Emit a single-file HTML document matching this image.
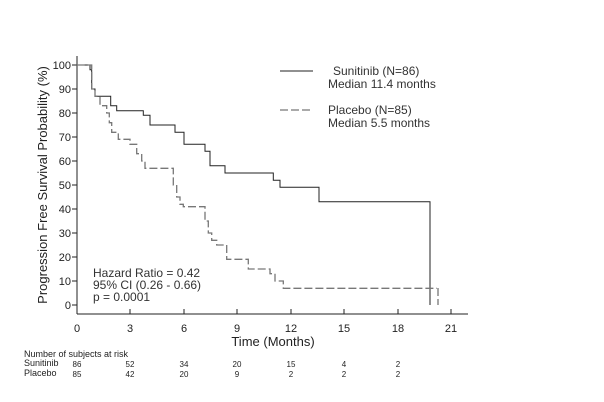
<!DOCTYPE html><html><head><style>body{margin:0;background:#fff}svg{display:block;font-family:"Liberation Sans",sans-serif}</style></head><body>
<svg width="604" height="402" viewBox="0 0 604 402">
<g stroke="#222" stroke-width="1" fill="none">
<line x1="77" y1="56" x2="77" y2="314"/>
<line x1="77" y1="314" x2="468" y2="314"/>
<g>
<line x1="72" y1="65" x2="77" y2="65"/><line x1="72" y1="89" x2="77" y2="89"/><line x1="72" y1="113" x2="77" y2="113"/><line x1="72" y1="137" x2="77" y2="137"/><line x1="72" y1="161" x2="77" y2="161"/><line x1="72" y1="185" x2="77" y2="185"/><line x1="72" y1="209" x2="77" y2="209"/><line x1="72" y1="233" x2="77" y2="233"/><line x1="72" y1="257" x2="77" y2="257"/><line x1="72" y1="281" x2="77" y2="281"/><line x1="72" y1="305" x2="77" y2="305"/>
</g>
<g>
<line x1="130" y1="309" x2="130" y2="314"/><line x1="184" y1="309" x2="184" y2="314"/><line x1="237" y1="309" x2="237" y2="314"/><line x1="291" y1="309" x2="291" y2="314"/><line x1="344" y1="309" x2="344" y2="314"/><line x1="398" y1="309" x2="398" y2="314"/><line x1="451" y1="309" x2="451" y2="314"/>
</g>
<line x1="280" y1="71" x2="313" y2="71"/>
<line x1="280" y1="110" x2="313" y2="110" stroke="#777" stroke-width="1.3" stroke-dasharray="8,3"/>
</g>
<path fill="none" stroke="#222" stroke-width="1" d="M76.7 65 H90 V69.7 H91.7 V89 H95 V96.3 H110.7 V105.7 H116.7 V110.7 H143.3 V115.3 H150 V125 H175 V132.3 H184 V144.3 H205 V151.3 H210 V165.7 H225 V173 H273.3 V180.3 H280 V187.3 H319 V201.7 H430 V305"/>
<path fill="none" stroke="#777" stroke-width="1.3" stroke-dasharray="8,3" d="M76.7 65 H91.7 V89 H95 V96.3 H100 V105.7 H106.7 V113 H109.3 V122.7 H111.7 V132.3 H118.3 V139.3 H130 V144.3 H136.7 V153.7 H141.7 V161 H145 V168.3 H173.3 V185 H176.7 V197 H180 V204.3 H183.3 V206.7 H205 V221 H208.3 V233 H211.7 V240.3 H216.7 V245 H226.7 V259.3 H248.3 V269 H270 V273.7 H275 V281 H283.3 V288.3 H437"/>
<line x1="438" y1="288" x2="438" y2="305" stroke="#777" stroke-width="1.3" stroke-dasharray="8,3"/>
<g font-size="11" fill="#222" text-anchor="end">
<text x="71" y="69">100</text><text x="71" y="93">90</text><text x="71" y="117">80</text><text x="71" y="141">70</text><text x="71" y="165">60</text><text x="71" y="189">50</text><text x="71" y="213">40</text><text x="71" y="237">30</text><text x="71" y="261">20</text><text x="71" y="285">10</text><text x="71" y="309">0</text>
</g>
<g font-size="11" fill="#222" text-anchor="middle">
<text x="77" y="332">0</text><text x="130" y="332">3</text><text x="184" y="332">6</text><text x="237" y="332">9</text><text x="291" y="332">12</text><text x="344" y="332">15</text><text x="398" y="332">18</text><text x="451" y="332">21</text>
</g>
<text x="273" y="346" font-size="13" text-anchor="middle" fill="#222">Time (Months)</text>
<text transform="translate(47,185) rotate(-90)" font-size="13" text-anchor="middle" fill="#222">Progression Free Survival Probability (%)</text>
<g font-size="12" fill="#333">
<text x="333" y="75">Sunitinib (N=86)</text><text x="328" y="88">Median 11.4 months</text>
<text x="328" y="114">Placebo (N=85)</text><text x="328" y="127">Median 5.5 months</text>
<text x="93" y="277">Hazard Ratio = 0.42</text><text x="93" y="289">95% CI (0.26 - 0.66)</text><text x="93" y="301">p = 0.0001</text>
</g>
<g font-size="9" fill="#222">
<text x="24" y="357">Number of subjects at risk</text>
<text x="24" y="366">Sunitinib</text><text x="24" y="376">Placebo</text>
</g>
<g font-size="8" fill="#222" text-anchor="middle">
<text x="77" y="367">86</text><text x="130" y="367">52</text><text x="184" y="367">34</text><text x="237" y="367">20</text><text x="291" y="367">15</text><text x="344" y="367">4</text><text x="398" y="367">2</text>
<text x="77" y="377">85</text><text x="130" y="377">42</text><text x="184" y="377">20</text><text x="237" y="377">9</text><text x="291" y="377">2</text><text x="344" y="377">2</text><text x="398" y="377">2</text>
</g>
</svg></body></html>
